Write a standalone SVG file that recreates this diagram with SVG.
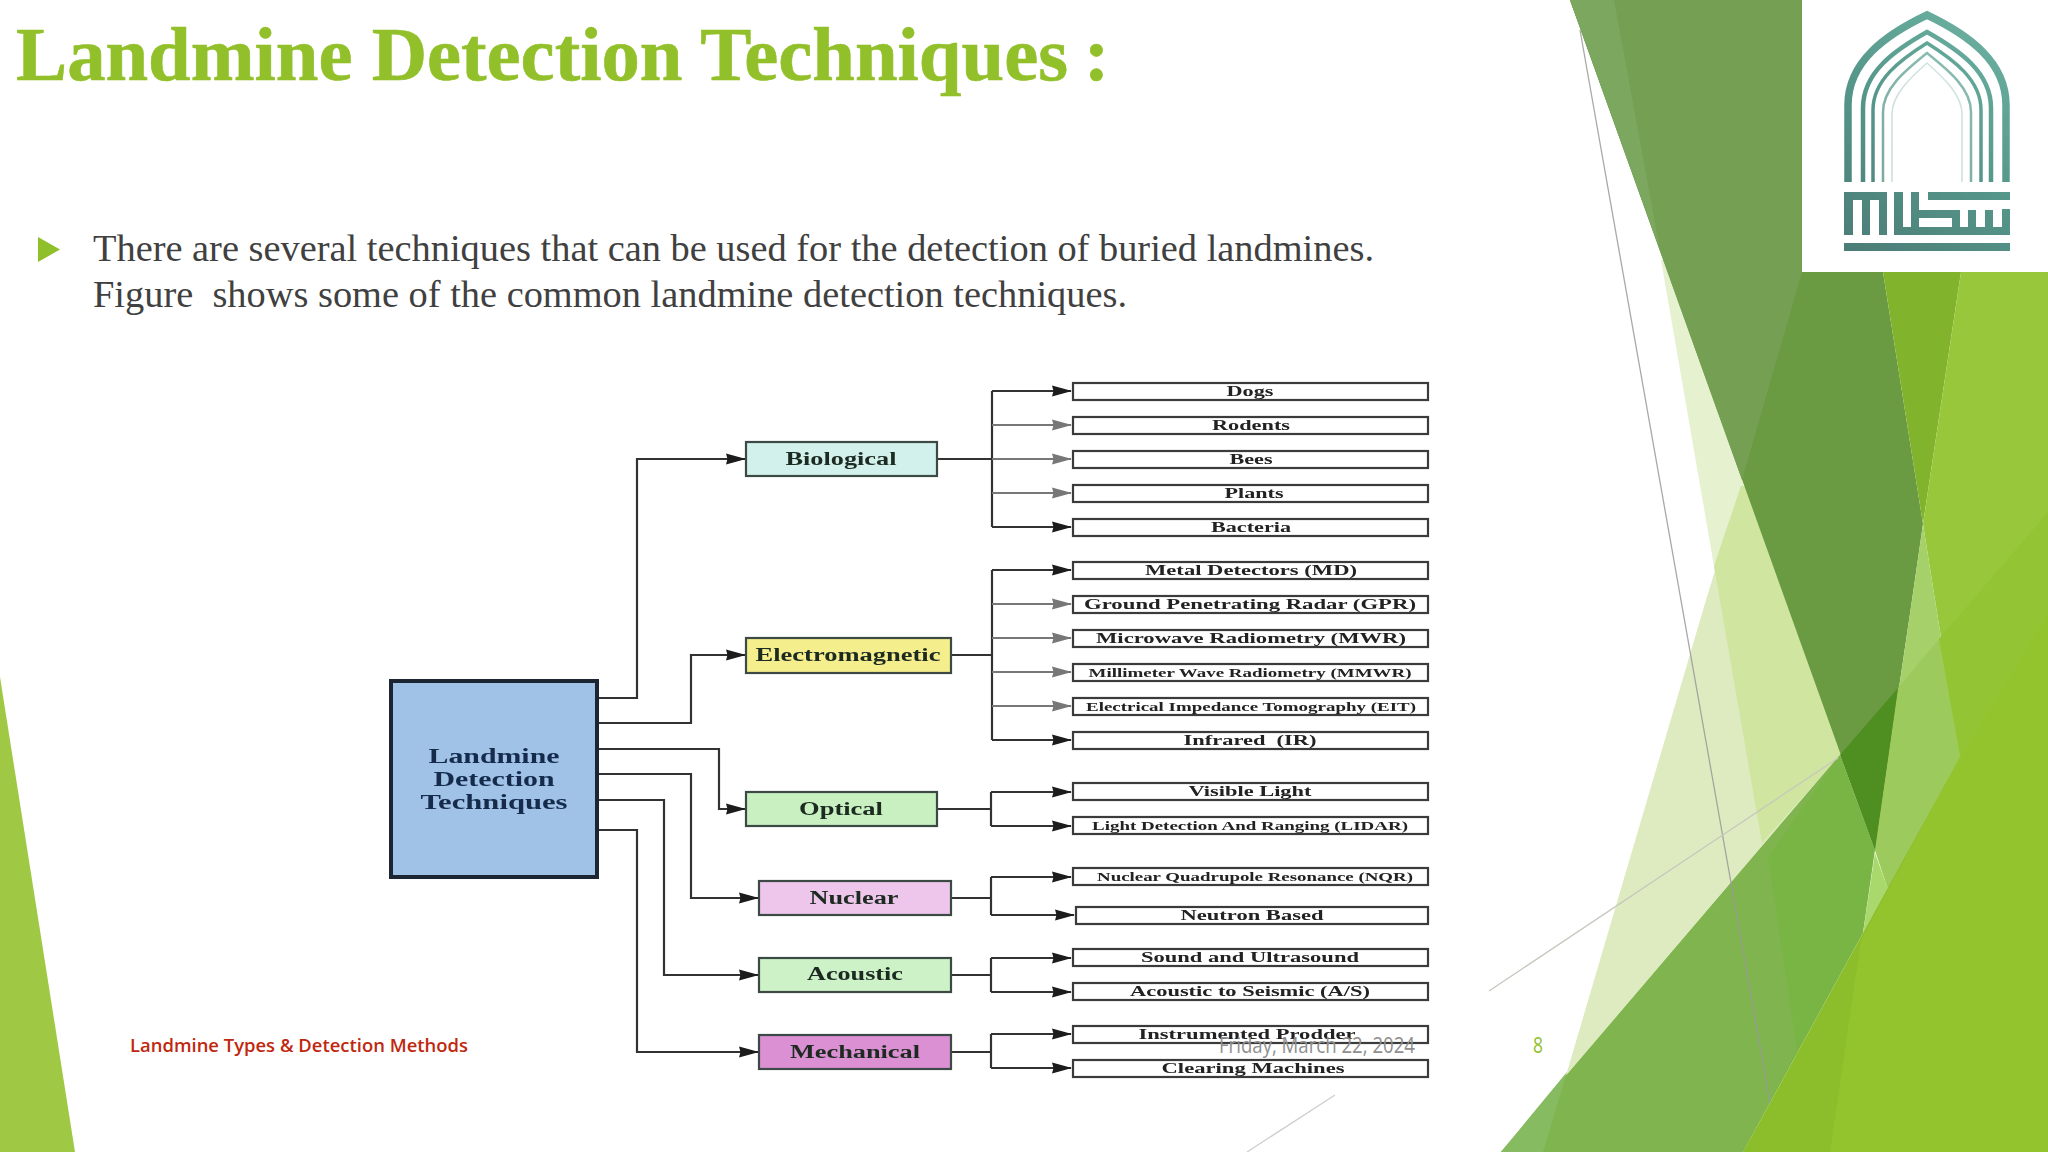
<svg xmlns="http://www.w3.org/2000/svg" width="2048" height="1152" viewBox="0 0 2048 1152">
<style>
.d{font-family:"Liberation Serif","Times New Roman",serif;font-weight:bold;fill:#222;text-anchor:middle}
.l{font-size:14.5px}
.s{font-size:12.5px}
.c{font-size:18.500px;fill:#1c2a20}
.m{font-size:21.500px;fill:#122a4c}
.leaf{fill:#fff;stroke:#3a3a3a;stroke-width:2.200}
.cat{stroke:#3c4a44;stroke-width:2.200}
.k{fill:none;stroke:#333;stroke-width:2.200}
.g{fill:none;stroke:#777;stroke-width:2}
.ka{marker-end:url(#ah)}
.ga{marker-end:url(#ag)}
.body{font-family:"Liberation Serif","Times New Roman",serif;font-size:38px;fill:#404040}
</style>
<defs>
<marker id="ah" markerUnits="userSpaceOnUse" markerWidth="20" markerHeight="12" refX="19" refY="6" orient="auto"><path d="M0,0.5L20,6L0,11.5L1.500,6Z" fill="#1a1a1a"/></marker>
<marker id="ag" markerUnits="userSpaceOnUse" markerWidth="20" markerHeight="12" refX="19" refY="6" orient="auto"><path d="M0,0.5L20,6L0,11.5L1.500,6Z" fill="#777"/></marker>
<linearGradient id="teal" gradientUnits="userSpaceOnUse" x1="2010" y1="30" x2="1844" y2="250"><stop offset="0" stop-color="#6cb2a2"/><stop offset="0.5" stop-color="#55968a"/><stop offset="1" stop-color="#4c7c76"/></linearGradient>
<filter id="soft" filterUnits="userSpaceOnUse" x="0" y="0" width="2048" height="1152"><feGaussianBlur stdDeviation="0.500"/></filter>
<filter id="soft2" filterUnits="userSpaceOnUse" x="0" y="0" width="2048" height="1152"><feGaussianBlur stdDeviation="0.700"/></filter>
</defs>
<rect width="2048" height="1152" fill="#fff"/>
<g id="background">
<polygon points="0,677 75,1152 0,1152" fill="#9fc944"/>
<polygon points="1661,260 1700,260 1880,755 1840,755 1762,843" fill="#e6f1d0"/>
<polygon points="1741,486 1760,486 1860,755 1840,755 1501,1152 1567,1072 1706,600" fill="#deebc0"/>
<polygon points="1741,486 1760,486 1860,755 1840,755 1762,843 1714,566" fill="#cfe5a0"/>
<polygon points="1570,0 1860,0 1883,272 1923,524 1912,600 1875,850" fill="#6a9a42"/>
<polygon points="1570,0 1802,0 1802,272 1742,480" fill="#759f52"/>
<polygon points="1570,0 1614,0 1660,250" fill="#7ba85e"/>
<polygon points="1860,272 1961,272 1923,524 1883,272" fill="#82b32c"/>
<polygon points="1961,272 2048,272 2048,612 1960,757 1935,600 1923,524" fill="#98c73c"/>
<polygon points="1923,524 1935,600 1960,757 1888,889 1875,850 1912,600" fill="#a5d06a"/>
<polygon points="1898,688 1939,639 1960,757 1888,889 1875,850" fill="#9dca5c"/>
<polygon points="1939,639 2048,512 2048,612 1960,757" fill="#93c434"/>
<polygon points="1501,1152 1840,755 1875,850 1863,933 1743,1152" fill="#79b545"/>
<polygon points="1501,1152 1840,755 1768,857 1797,1050 1743,1152" fill="#80b44f"/>
<polygon points="1501,1152 1543,1152 1567,1072" fill="#86bb62"/>
<polygon points="1840,755 1898,688 1875,850" fill="#4f8e20"/>
<polygon points="1875,853 1888,889 1863,933" fill="#a9d96c"/>
<polygon points="1743,1152 1863,933 1960,757 2048,612 2048,1152" fill="#8cbd2b"/>
<polygon points="1830,1152 1861,940 1960,757 2048,612 2048,1152" fill="#93c42e"/>
<line x1="1580" y1="30" x2="1770" y2="1103" stroke="#9a9a98" stroke-width="1.300" opacity="0.850"/>
<line x1="1489" y1="991" x2="1838" y2="758" stroke="#c6c8be" stroke-width="1.300"/>
<line x1="1335" y1="1095" x2="1247" y2="1152" stroke="#cfcfcf" stroke-width="1.300"/>
</g>
<g id="logo">
<rect x="1802" y="0" width="246" height="272" fill="#fff"/>
<g filter="url(#soft2)">
<g fill="none" stroke="url(#teal)">
<path stroke-width="7.500" d="M1848,182V105C1848,62 1885,35 1927,15C1969,35 2006,62 2006,105V182"/>
<path stroke-width="4.500" d="M1863,182V108C1863,72 1895,50 1927,32C1959,50 1991,72 1991,108V182"/>
<path stroke-width="3.500" d="M1873,182V110C1873,80 1900,60 1927,43C1954,60 1981,80 1981,110V182"/>
<path stroke-width="2.500" opacity="0.750" d="M1883,182V112C1883,88 1906,70 1927,53C1948,70 1971,88 1971,112V182"/>
<path stroke-width="1.500" opacity="0.300" d="M1892,182V114C1892,95 1910,78 1927,63C1944,78 1962,95 1962,114V182"/>
</g>
<g fill="url(#teal)">
<rect x="1844" y="192" width="43" height="8"/><rect x="1844" y="192" width="9" height="43"/><rect x="1862" y="200" width="8" height="35"/><rect x="1879" y="192" width="8" height="43"/>
<rect x="1894" y="192" width="9" height="43"/><rect x="1894" y="227" width="116" height="8"/><rect x="1911" y="192" width="8" height="35"/><rect x="1928" y="192" width="82" height="8"/>
<rect x="1919" y="210" width="36" height="8"/><rect x="1952" y="210" width="8" height="25"/><rect x="1968" y="210" width="8" height="17"/><rect x="1985" y="210" width="8" height="17"/><rect x="2002" y="209" width="8" height="26"/>
<rect x="1844" y="243" width="166" height="8"/>
</g>
</g>
</g>
<g id="slide-text">
<text y="80" font-family="'Liberation Serif','Times New Roman',serif" font-weight="bold" font-size="76" fill="#92c02a" stroke="#92c02a" stroke-width="0.600"><tspan x="16" textLength="1052" lengthAdjust="spacingAndGlyphs">Landmine Detection Techniques</tspan> <tspan x="1084">:</tspan></text>
<polygon points="38,237 60,249.500 38,262" fill="#8fbf2a"/>
<text class="body" x="93" y="261" textLength="1281" lengthAdjust="spacingAndGlyphs">There are several techniques that can be used for the detection of buried landmines.</text>
<text class="body" x="93" y="307" xml:space="preserve" textLength="1034" lengthAdjust="spacingAndGlyphs">Figure  shows some of the common landmine detection techniques.</text>
</g>
<g id="diagram" filter="url(#soft)">
<g id="connectors">
<path class="k ka" d="M597,698H637V459H745"/>
<path class="k ka" d="M597,723H691V655H745"/>
<path class="k ka" d="M597,749H719V809H745"/>
<path class="k ka" d="M597,774H691V898H758"/>
<path class="k ka" d="M597,800H664V975H758"/>
<path class="k ka" d="M597,830H637V1052H758"/>
<path class="k" d="M937,459H992M951,655H992M937,809H991M951,898H991M951,975H991M951,1052H991"/>
<path class="k ka" d="M992,527H1071"/><path class="k ka" d="M992,391H1071"/><path class="k" d="M992,391V527"/>
<path class="g ga" d="M992,425H1071"/><path class="g ga" d="M992,459H1071"/><path class="g ga" d="M992,493H1071"/>
<path class="k ka" d="M992,570H1071"/><path class="k ka" d="M992,740H1071"/><path class="k" d="M992,570V740"/>
<path class="g ga" d="M992,604H1071"/><path class="g ga" d="M992,638H1071"/><path class="g ga" d="M992,672H1071"/><path class="g ga" d="M992,706H1071"/>
<path class="k ka" d="M991,792H1071"/><path class="k ka" d="M991,826H1071"/><path class="k" d="M991,792V826"/>
<path class="k ka" d="M991,877H1071"/><path class="k ka" d="M991,915H1074"/><path class="k" d="M991,877V915"/>
<path class="k ka" d="M991,958H1071"/><path class="k ka" d="M991,992H1071"/><path class="k" d="M991,958V992"/>
<path class="k ka" d="M991,1034H1071"/><path class="k ka" d="M991,1068H1071"/><path class="k" d="M991,1034V1068"/>
</g>
<g id="root"><rect x="391" y="681" width="206" height="196" fill="#a0c2e6" stroke="#1a2530" stroke-width="4"/>
<text class="d m" x="494" y="763" textLength="131" lengthAdjust="spacingAndGlyphs">Landmine</text>
<text class="d m" x="494" y="786" textLength="121" lengthAdjust="spacingAndGlyphs">Detection</text>
<text class="d m" x="494" y="809" textLength="147" lengthAdjust="spacingAndGlyphs">Techniques</text></g>
<g id="cat-biological"><rect class="cat" x="746" y="442" width="191" height="34" fill="#d2f0ec"/><text class="d c" x="841" y="465" textLength="111" lengthAdjust="spacingAndGlyphs">Biological</text></g>
<g id="cat-electromagnetic"><rect class="cat" x="746" y="638" width="205" height="35" fill="#f4ee8c"/><text class="d c" x="848" y="661" textLength="185" lengthAdjust="spacingAndGlyphs">Electromagnetic</text></g>
<g id="cat-optical"><rect class="cat" x="746" y="792" width="191" height="34" fill="#c8f0c0"/><text class="d c" x="841" y="815" textLength="84" lengthAdjust="spacingAndGlyphs">Optical</text></g>
<g id="cat-nuclear"><rect class="cat" x="759" y="881" width="192" height="34" fill="#eec6ec"/><text class="d c" x="854" y="904" textLength="89" lengthAdjust="spacingAndGlyphs">Nuclear</text></g>
<g id="cat-acoustic"><rect class="cat" x="759" y="958" width="192" height="34" fill="#cdf2c8"/><text class="d c" x="855" y="980" textLength="96" lengthAdjust="spacingAndGlyphs">Acoustic</text></g>
<g id="cat-mechanical"><rect class="cat" x="759" y="1035" width="192" height="34" fill="#dc90d4"/><text class="d c" x="855" y="1058" textLength="130" lengthAdjust="spacingAndGlyphs">Mechanical</text></g>
<g id="leaf-dogs"><rect class="leaf" x="1073" y="383" width="355" height="17"/><text class="d l" x="1250" y="396" textLength="47" lengthAdjust="spacingAndGlyphs">Dogs</text></g>
<g id="leaf-rodents"><rect class="leaf" x="1073" y="417" width="355" height="17"/><text class="d l" x="1251" y="430" textLength="78" lengthAdjust="spacingAndGlyphs">Rodents</text></g>
<g id="leaf-bees"><rect class="leaf" x="1073" y="451" width="355" height="17"/><text class="d l" x="1251" y="464" textLength="43" lengthAdjust="spacingAndGlyphs">Bees</text></g>
<g id="leaf-plants"><rect class="leaf" x="1073" y="485" width="355" height="17"/><text class="d l" x="1254" y="498" textLength="59" lengthAdjust="spacingAndGlyphs">Plants</text></g>
<g id="leaf-bacteria"><rect class="leaf" x="1073" y="519" width="355" height="17"/><text class="d l" x="1251" y="532" textLength="80" lengthAdjust="spacingAndGlyphs">Bacteria</text></g>
<g id="leaf-md"><rect class="leaf" x="1073" y="562" width="355" height="17"/><text class="d l" x="1251" y="575" textLength="212" lengthAdjust="spacingAndGlyphs">Metal Detectors (MD)</text></g>
<g id="leaf-gpr"><rect class="leaf" x="1073" y="596" width="355" height="17"/><text class="d l" x="1250" y="609" textLength="332" lengthAdjust="spacingAndGlyphs">Ground Penetrating Radar (GPR)</text></g>
<g id="leaf-mwr"><rect class="leaf" x="1073" y="630" width="355" height="17"/><text class="d l" x="1251" y="643" textLength="310" lengthAdjust="spacingAndGlyphs">Microwave Radiometry (MWR)</text></g>
<g id="leaf-mmwr"><rect class="leaf" x="1073" y="664" width="355" height="17"/><text class="d s" x="1250" y="676.500" textLength="323" lengthAdjust="spacingAndGlyphs">Millimeter Wave Radiometry (MMWR)</text></g>
<g id="leaf-eit"><rect class="leaf" x="1073" y="698" width="355" height="17"/><text class="d s" x="1251" y="710.500" textLength="330" lengthAdjust="spacingAndGlyphs">Electrical Impedance Tomography (EIT)</text></g>
<g id="leaf-ir"><rect class="leaf" x="1073" y="732" width="355" height="17"/><text class="d l" x="1250" y="745" xml:space="preserve" textLength="133" lengthAdjust="spacingAndGlyphs">Infrared  (IR)</text></g>
<g id="leaf-visible"><rect class="leaf" x="1073" y="783" width="355" height="17"/><text class="d l" x="1250" y="796" textLength="123" lengthAdjust="spacingAndGlyphs">Visible Light</text></g>
<g id="leaf-lidar"><rect class="leaf" x="1073" y="817" width="355" height="17"/><text class="d s" x="1250" y="830" textLength="316" lengthAdjust="spacingAndGlyphs">Light Detection And Ranging (LIDAR)</text></g>
<g id="leaf-nqr"><rect class="leaf" x="1073" y="868" width="355" height="17"/><text class="d s" x="1255" y="881" textLength="316" lengthAdjust="spacingAndGlyphs">Nuclear Quadrupole Resonance (NQR)</text></g>
<g id="leaf-neutron"><rect class="leaf" x="1076" y="907" width="352" height="17"/><text class="d l" x="1252" y="920" textLength="143" lengthAdjust="spacingAndGlyphs">Neutron Based</text></g>
<g id="leaf-sound"><rect class="leaf" x="1073" y="949" width="355" height="17"/><text class="d l" x="1250" y="962" textLength="218" lengthAdjust="spacingAndGlyphs">Sound and Ultrasound</text></g>
<g id="leaf-as"><rect class="leaf" x="1073" y="983" width="355" height="17"/><text class="d l" x="1250" y="996" textLength="240" lengthAdjust="spacingAndGlyphs">Acoustic to Seismic (A/S)</text></g>
<g id="leaf-prodder"><rect class="leaf" x="1073" y="1026" width="355" height="17"/><text class="d l" x="1247" y="1039" textLength="217" lengthAdjust="spacingAndGlyphs">Instrumented Prodder</text></g>
<g id="leaf-clearing"><rect class="leaf" x="1073" y="1060" width="355" height="17"/><text class="d l" x="1253" y="1073" textLength="183" lengthAdjust="spacingAndGlyphs">Clearing Machines</text></g>
</g>
<g id="footer">
<text x="130" y="1052" font-family="'Open Sans','Noto Sans',sans-serif" font-weight="600" font-size="18.500" fill="#c0280f" textLength="338" lengthAdjust="spacingAndGlyphs">Landmine Types &amp; Detection Methods</text>
<text x="1219" y="1053" font-family="'Open Sans','Noto Sans',sans-serif" font-size="21" fill="#8f8f8f" textLength="196" lengthAdjust="spacingAndGlyphs">Friday, March 22, 2024</text>
<text x="1533" y="1053" font-family="'Open Sans','Noto Sans',sans-serif" font-size="21" fill="#90c02b" textLength="10" lengthAdjust="spacingAndGlyphs">8</text>
</g>
</svg>
